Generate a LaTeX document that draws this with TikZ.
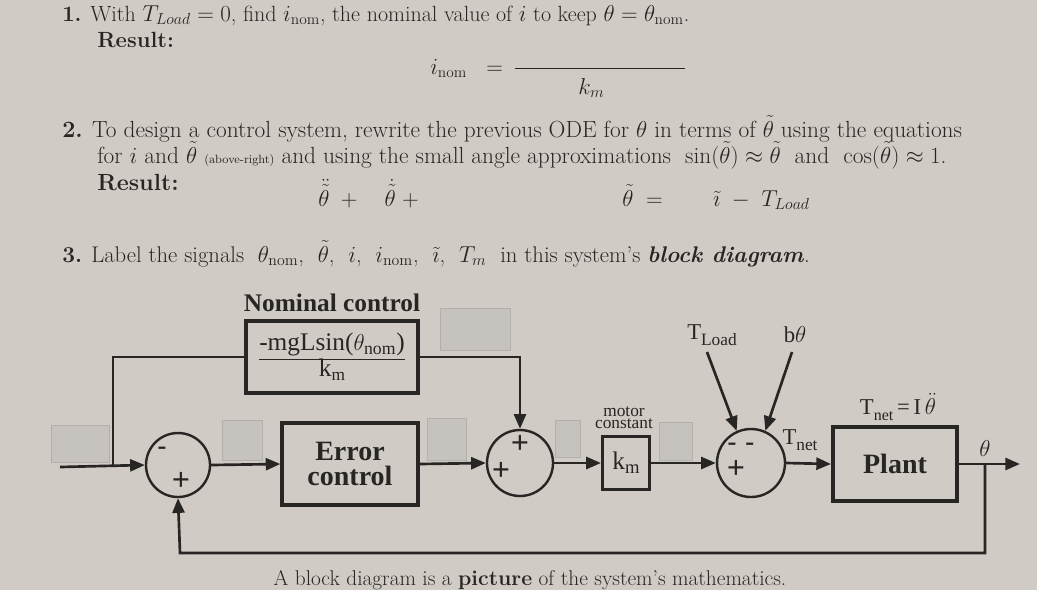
\documentclass[tikz,border=0pt]{standalone}
\usepackage{fontspec}
\usepackage{amsmath}
\newfontfamily\tms{Liberation Serif}
\usetikzlibrary{arrows.meta}
\definecolor{paper}{RGB}{208,203,197}
\definecolor{ink}{RGB}{40,38,36}
\definecolor{blank}{RGB}{198,195,191}
\begin{document}
\begin{tikzpicture}[x=0.75pt,y=-0.75pt,
  txt/.style={inner sep=0pt,anchor=base west,text=ink,font=\fontsize{16.5}{18}\selectfont},
  blk/.style={draw=ink,line width=2.4pt,inner sep=0pt,font=\tms\bfseries\fontsize{21}{19}\selectfont,text=ink,align=center},
  sumc/.style={draw=ink,line width=1.8pt,circle,inner sep=0pt},
  ph/.style={fill=blank,draw=blank!90!black,line width=0.4pt,inner sep=0pt},
  wire/.style={draw=ink,line width=2pt},
  arr/.style={wire,-{Triangle[length=11pt,width=9pt]}},
  lab/.style={text=ink,font=\tms\fontsize{17}{17}\selectfont,inner sep=0pt}]
\fill[paper] (0,0) rectangle (1037,590);
\useasboundingbox (0,0) rectangle (1037,590);
% text
\node[txt] (l1) at (62,21) {\textbf{1.} With $T_{Load}=0$, find $i_{\text{nom}}$, the nominal value of $i$ to keep $\theta=\theta_{\text{nom}}$.};
\node[txt] (r1) at (97,47) {\textbf{Result:}};
\node[txt] (eq1) at (430,74) {$i_{\text{nom}}\;\;=$};
\draw[ink,line width=0.6pt] (515,68) -- (685,68);
\node[txt] (km0) at (578,94) {$k_m$};
\node[txt,font=\fontsize{17.5}{18}\selectfont] (l2) at (62,137) {\textbf{2.} To design a control system, rewrite the previous ODE for $\theta$ in terms of $\tilde\theta$ using the equations};
\node[txt,font=\fontsize{17.5}{18}\selectfont] (l2b) at (97,163) {for $i$ and $\tilde\theta$ {\small(above-right)} and using the small angle approximations \ $\sin(\tilde\theta)\approx\tilde\theta$ \ and \ $\cos(\tilde\theta)\approx 1$.};
\node[txt,font=\fontsize{17.5}{18}\selectfont] (r2) at (97,190) {\textbf{Result:}};
\node[txt] (eq2a) at (318,206) {$\ddot{\tilde\theta}\;+\quad\dot{\tilde\theta}\;+$};
\node[txt] (eq2b) at (622,206) {$\tilde\theta\;=\qquad\tilde\imath\;-\;T_{Load}$};
\node[txt,font=\fontsize{17}{18}\selectfont] (l3) at (62,262) {\textbf{3.} Label the signals \ $\theta_{\text{nom}}$, \ $\tilde\theta$, \ $i$, \ $i_{\text{nom}}$, \ $\tilde\imath$, \ $T_m$ \ in this system's \textbf{\textit{block diagram}}.};
% placeholders
\node[ph,minimum width=70pt*0.75,minimum height=42pt*0.75] (p1) at (475,329) {};
\node[ph,minimum width=58pt*0.75,minimum height=37pt*0.75] (p2) at (80,444) {};
\node[ph,minimum width=40pt*0.75,minimum height=40pt*0.75] (p3) at (242,440) {};
\node[ph,minimum width=39pt*0.75,minimum height=42pt*0.75] (p4) at (447,439) {};
\node[ph,minimum width=25pt*0.75,minimum height=37pt*0.75] (p5) at (568,439) {};
\node[ph,minimum width=33pt*0.75,minimum height=38pt*0.75] (p6) at (676,441) {};
% blocks
\node[lab,font=\tms\bfseries\fontsize{19}{19}\selectfont] (nct) at (332,303) {Nominal control};
\node[blk,minimum width=172pt*0.75,minimum height=72pt*0.75,font=\tms\fontsize{19}{20}\selectfont] (nom) at (332,357)
  {$\underline{\text{-mgLsin(}\theta_{\text{nom}}\text{)}}$\\[-2pt]k\raisebox{-3pt}{\fontsize{13}{13}\selectfont m}};
\node[blk,minimum width=136pt*0.75,minimum height=82pt*0.75] (err) at (350,464) {Error\\control};
\node[blk,minimum width=47pt*0.75,minimum height=53pt*0.75,font=\tms\fontsize{19}{19}\selectfont] (km) at (626,463) {k\raisebox{-3pt}{\fontsize{14}{14}\selectfont m}};
\node[lab,font=\tms\fontsize{13}{12}\selectfont,align=center] (mc) at (624,418) {motor\\[-3pt]constant};
\node[blk,line width=3pt,minimum width=124pt*0.75,minimum height=74pt*0.75] (plant) at (895,464) {Plant};
\node[lab] (tneq) at (898,407) {T\raisebox{-4pt}{\fontsize{12}{12}\selectfont net}\,=\,I\,$\ddot\theta$};
% summers
\node[sumc,minimum size=64pt*0.75] (s1) at (178,465) {};
\node[lab,font=\tms\bfseries\fontsize{20}{20}\selectfont] at (162,451) {-};
\node[lab,font=\tms\bfseries\fontsize{24}{24}\selectfont] at (181,481) {+};
\node[sumc,minimum size=66pt*0.75] (s2) at (520,463) {};
\node[lab,font=\tms\bfseries\fontsize{24}{24}\selectfont] at (520,444) {+};
\node[lab,font=\tms\bfseries\fontsize{24}{24}\selectfont] at (501,471) {+};
\node[sumc,minimum size=68pt*0.75] (s3) at (751,463) {};
\node[lab,font=\tms\bfseries\fontsize{20}{20}\selectfont] at (741,447) {-\,\,-};
\node[lab,font=\tms\bfseries\fontsize{24}{24}\selectfont] at (736,469) {+};
% signals
\coordinate (in) at (60,467);
\coordinate (br) at (113,467);
\coordinate (tl) at (707,352);
\coordinate (tb) at (792,352);
\coordinate (out) at (1020,464);
\coordinate (ob) at (985,464);
\node[lab] (tload) at (712,335) {T\raisebox{-5pt}{\fontsize{13}{13}\selectfont Load}};
\node[lab] (bth) at (795,335) {b$\theta$};
\node[lab] (tnet) at (800,440) {T\raisebox{-5pt}{\fontsize{13}{13}\selectfont net}};
\node[lab] (thout) at (985,448) {$\theta$};
\draw[arr] (in) -- (s1.west);
\draw[wire] (br) |- (nom.west);
\draw[arr] (nom.east) -| (s2.north);
\draw[arr] (s1.east) -- (err.west);
\draw[arr] (err.east) -- (s2.west);
\draw[arr] (s2.east) -- (km.west);
\draw[arr] (km.east) -- (s3.west);
\draw[arr] (tl) -- (s3.114);
\draw[arr] (tb) -- (s3.66);
\draw[arr] (s3.east) -- (plant.west);
\draw[arr] (plant.east) -- (out);
\draw[arr] (ob) |- (180,553) -- (s1.south);
\node[lab,font=\fontsize{16}{16}\selectfont] (cap) at (530,580) {A block diagram is a \textbf{picture} of the system's mathematics.};
\end{tikzpicture}
\end{document}
